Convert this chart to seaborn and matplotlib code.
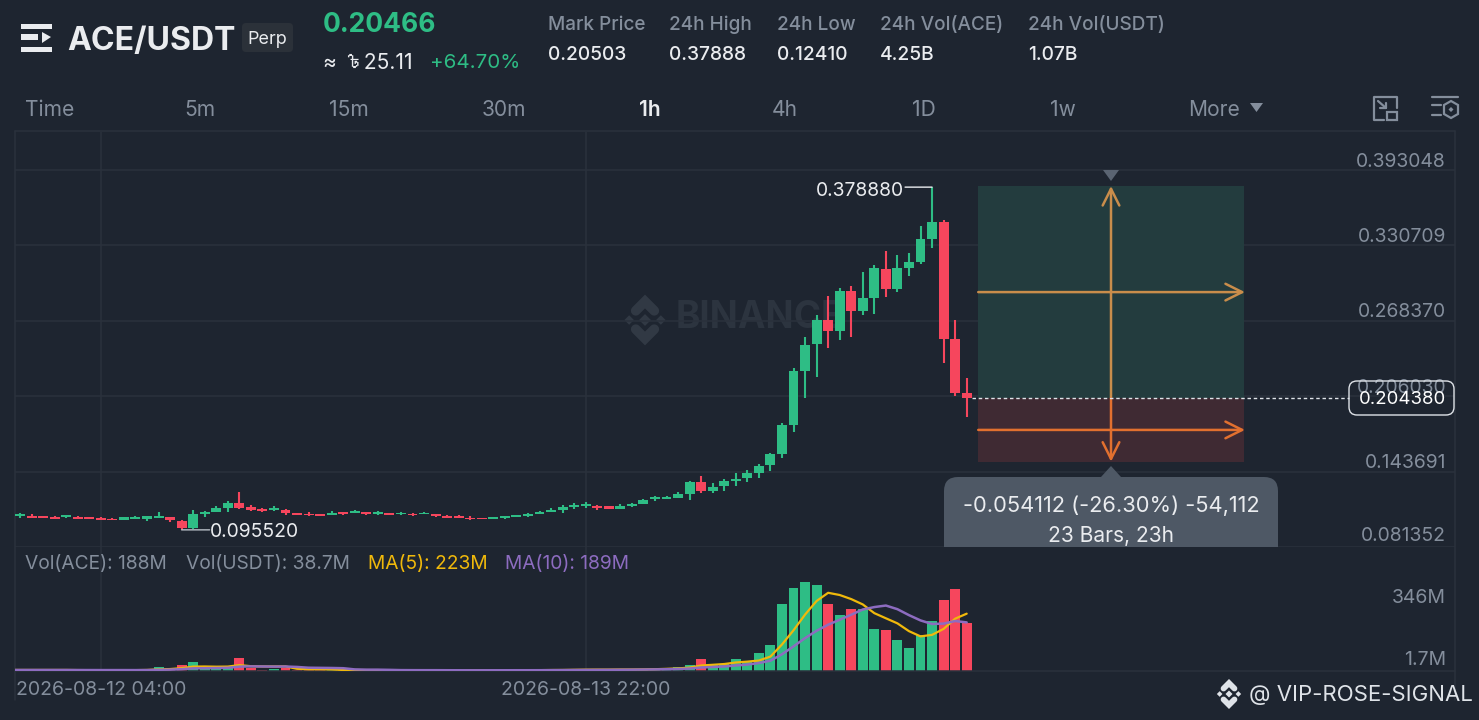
import numpy as np
import pandas as pd
import seaborn as sns
import matplotlib
matplotlib.use("Agg")
import matplotlib.pyplot as plt
from matplotlib import font_manager as fm
from matplotlib.ft2font import FT2Font
from matplotlib.patches import Rectangle, Polygon, FancyBboxPatch

BG = "#1e2530"; GRID = "#2a313c"; GREEN = "#2ebd85"; RED = "#f6465d"
MUTED = "#848e9c"; WHITE = "#eaecef"; YELLOW = "#f0b90b"; PURPLE = "#8d6cc0"

opens = [.10670,.10698,.10670,.10643,.10587,.10615,.10615,.10560,.10477,.10395,.10477,.10477,.10532,.10615,.10312,.09678,.10891,.11056,.11332,.11745,.11414,.11249,.11221,.11221,.10918,.10891,.10863,.10780,
 .11001,.10974,.11001,.10836,.10946,.10836,.10891,.10864,.10836,.10671,.10698,.10560,.10533,.10450,.10560,.10643,.10726,.10864,.11029,.11167,.11442,.11525,.11553,.11497,.11305,.11497,.11690,.12076,.12131,.12214,.12517,.13482,.12793,.13151,.13619,.13812,.14281,.14887,
 .15824,.18249,.22686,.24891,.26903,.25994,.29273,.27675,.28722,.31147,.29439,.31230,.31726,.33600,.35006,.25332,.20840]
closes = [.10836,.10560,.10532,.10477,.10753,.10450,.10477,.10395,.10339,.10587,.10643,.10670,.10698,.10339,.09678,.10863,.11028,.11332,.11773,.11387,.11221,.11084,.11387,.10946,.10808,.10753,.10725,.10973,
 .10836,.11140,.10836,.11001,.10808,.10974,.10753,.10974,.10698,.10533,.10560,.10423,.10423,.10588,.10698,.10753,.10864,.11029,.11167,.11442,.11608,.11663,.11387,.11305,.11497,.11663,.12049,.12242,.12269,.12490,.13482,.12793,.13123,.13564,.13785,.14281,.14860,.15824,
 .18249,.22686,.24864,.26903,.26021,.29273,.27675,.28694,.31175,.29466,.31230,.31726,.33600,.35006,.25360,.20895,.20438]
highs = [.10946,.10863,.10698,.10698,.10780,.10698,.10643,.10615,.10505,.10615,.10670,.10698,.11028,.10643,.10367,.11194,.11139,.11525,.11966,.12654,.11580,.11332,.11497,.11249,.10946,.11028,.10891,.11084,
 .11029,.11167,.11029,.11112,.10974,.11001,.10974,.11001,.10864,.10781,.10781,.10698,.10560,.10615,.10726,.10781,.10946,.11112,.11360,.11580,.11773,.11883,.11608,.11525,.11663,.11773,.12076,.12352,.12352,.12682,.13592,.13978,.13454,.13730,.14253,.14501,.14970,.15907,
 .18360,.22962,.25470,.27289,.28887,.29521,.29714,.30844,.31450,.32580,.32250,.32415,.34647,.37888,.35171,.26931,.22108]
lows = [.10560,.10560,.10505,.10450,.10560,.10450,.10450,.10367,.10339,.10339,.10450,.10312,.10505,.10229,.09552,.09650,.10643,.11001,.11001,.11304,.11139,.11028,.11111,.10808,.10808,.10725,.10725,.10753,
 .10808,.10946,.10808,.10808,.10808,.10808,.10698,.10836,.10643,.10505,.10533,.10395,.10423,.10423,.10478,.10615,.10643,.10836,.11001,.10974,.11305,.11360,.11222,.11249,.11277,.11470,.11663,.11966,.12076,.12186,.12049,.12627,.12627,.12793,.13151,.13482,.13868,.14446,
 .15490,.17643,.20482,.22218,.24616,.25249,.25525,.27344,.27427,.28832,.29218,.30541,.31506,.32884,.23375,.20619,.18855]
volumes = [5,4,4,3,4,3,3,3,3,4,4,6,14,10,22,34,8,10,12,51,13,3,9,13,
 5,4,3,5,3,4,3,3,2,3,3,3,3,3,2,3,3,3,4,3,3,4,5,5,6,6,5,5,7,6,8,9,12,15,
 23,48,23,27,45,40,69,100,263,322,346,334,260,220,242,242,164,160,121,90,140,194,276,320,188]
ma5 = [4,4,4,4,4,4,3.6,3.4,3.2,3.2,3.2,3.4,4,6.2,7.6,11.2,17.2,17.6,16.8,17.2,23,18.8,17.8,17.6,17.8,8.6,6.8,6.8,6,4,3.8,3.6,3.6,3,3,2.8,2.8,2.8,3,2.8,2.8,2.8,2.8,3,3.2,3.2,3.4,3.8,4,4.6,5.2,5.4,5.4,5.8,5.8,6.2,7,8.4,10,13.4,21.4,24.2,27.2,33.2,36.6,40.8,56.2,103.4,158.8,220,273,305,296.4,280.4,259.6,225.6,205.6,185.8,155.4,135,141,164.2,204,223.6]
ma10 = [4,4,4,4,4,4,3.8,3.7,3.6,3.6,3.6,3.5,3.7,4.7,5.4,7.2,10.3,10.8,11.5,12.4,17.1,18,17.7,17.2,17.5,15.8,12.8,12.3,11.8,10.9,6.2,5.2,5.2,4.5,3.5,3.3,3.2,3.2,3,2.9,2.8,2.8,2.9,2.9,3,3,3.1,3.3,3.5,3.9,4.2,4.4,4.6,4.9,5.2,5.7,6.2,6.9,7.9,9.6,13.8,15.6,17.8,21.6,25,31.1,40.2,65.3,96,128.3,156.9,180.6,199.9,219.6,239.8,249.3,255.3,241.1,217.9,197.3,183.3,184.9,194.9,189.5]
price_ticks = [0.393048,0.330709,0.268370,0.206030,0.143691,0.081352]
date_ticks = [7, 49]
date_labels = ["2026-08-12 04:00", "2026-08-13 22:00"]
stat_labels = ["Mark Price","24h High","24h Low","24h Vol(ACE)","24h Vol(USDT)"]
stat_values = ["0.20503","0.37888","0.12410","4.25B","1.07B"]
tabs = ["5m","15m","30m","1h","4h","1D","1w"]

sns.set_theme(style="dark")
plt.rcParams['font.family'] = ['Inter', 'DejaVu Sans']
plt.rcParams['axes.unicode_minus'] = False

# look for an installed family that carries the taka sign
taka_families = []
for f in fm.fontManager.ttflist:
    try:
        if FT2Font(f.fname).get_char_index(0x9F3) != 0 and f.name not in taka_families:
            taka_families.append(f.name)
    except Exception:
        pass

W, H = 1479, 720
fig = plt.figure(figsize=(W/100, H/100), dpi=100, facecolor=BG)

def rect(x0, y0, x1, y1):
    return [x0/W, 1-y1/H, (x1-x0)/W, (y1-y0)/H]

bg = fig.add_axes([0,0,1,1], zorder=0); bg.set_xlim(0,W); bg.set_ylim(H,0); bg.axis("off")
price = fig.add_axes(rect(15,132,1455,547), zorder=1, facecolor="none")
vol = fig.add_axes(rect(15,547,1455,671), zorder=1, facecolor="none")
ui = fig.add_axes([0,0,1,1], zorder=3, facecolor="none"); ui.set_xlim(0,W); ui.set_ylim(H,0); ui.axis("off")

def T(ax, x, y, s, px, color, ha="left", weight="normal", **kw):
    return ax.text(x, y, s, fontsize=px*0.72, color=color, ha=ha, va="center", fontweight=weight, **kw)

def diamond_logo(ax, cx, cy, r, color):
    s = r*0.27
    def d(x, y, q):
        ax.add_patch(Polygon([(x,y-q),(x+q,y),(x,y+q),(x-q,y)], closed=True, fc=color, ec="none"))
    d(cx, cy, s)
    d(cx-r*0.72, cy, s*0.8)
    d(cx+r*0.72, cy, s*0.8)
    for sy in (-1, 1):
        ax.plot([cx-r*0.42, cx, cx+r*0.42], [cy+sy*r*0.42, cy+sy*r*0.84, cy+sy*r*0.42], color=color, lw=r*0.32, solid_joinstyle="miter")

# watermark, beneath the candles
diamond_logo(bg, 645, 320, 22, "#313944")
T(bg, 676, 318, "BINANCE", 37, "#2c343f", weight="bold")

idx = np.arange(len(opens))
ma_x = np.arange(-1, len(opens))
XL = (-5/11.545, (1455-20)/11.545)
PY = 0.00082678
price.set_xlim(*XL); price.set_ylim(0.081352, 0.081352+415*PY)
vol.set_ylim(0, 124*3.9)

# grid
for t in price_ticks:
    price.axhline(t, color=GRID, lw=1.1, zorder=1)
for ax in (price, vol):
    for i in date_ticks:
        ax.axvline(i, color=GRID, lw=1.1, zorder=1)
    ax.grid(False)
    for s in ax.spines.values():
        s.set_visible(False)
price.set_xticks([]); price.set_yticks([])
for t, lab in zip(price_ticks, ["%.6f" % p for p in price_ticks]):
    off = 11 if t == price_ticks[-1] else 8.5
    price.annotate(lab, xy=(1, t), xycoords=("axes fraction","data"), xytext=(-9, off), textcoords="offset pixels",
                   ha="right", va="center", color=MUTED, fontsize=13.9, annotation_clip=False)

# candles
colors = [GREEN if c >= o else RED for o, c in zip(opens, closes)]
price.vlines(idx, lows, highs, colors=colors, lw=1.5, zorder=3)
bottoms = np.minimum(opens, closes); heights = np.abs(np.array(closes)-np.array(opens))
price.bar(idx, heights, bottom=bottoms, width=0.86, color=colors, linewidth=0, zorder=4)

# extremes
hi = int(np.argmax(highs)); lo = int(np.argmin(lows))
price.annotate("", xy=(hi, highs[hi]), xytext=(-27, 0), textcoords="offset pixels",
               arrowprops=dict(arrowstyle="-", color=WHITE, lw=1, shrinkA=0, shrinkB=0))
price.annotate("0.378880", xy=(hi, highs[hi]), xytext=(-28, -4), textcoords="offset pixels", color=WHITE, fontsize=13.9,
               ha="right", va="center")
price.annotate("", xy=(lo, lows[lo]), xytext=(28, 0), textcoords="offset pixels",
               arrowprops=dict(arrowstyle="-", color="#b7bdc6", lw=1, shrinkA=0, shrinkB=0))
price.annotate("0.095520", xy=(lo, lows[lo]), xytext=(28, -2), textcoords="offset pixels", color=WHITE, fontsize=13.9,
               ha="left", va="center")

# position tool
L, R = 83, 106; MID = 94.5; TOP = .3798; ENTRY = .2044; SL = .1519
price.add_patch(Rectangle((L, ENTRY), R-L, TOP-ENTRY, fc="#233c3e", ec="none", zorder=2))
price.add_patch(Rectangle((L, SL), R-L, ENTRY-SL, fc="#3f2a33", ec="none", zorder=2))
TAN = "#c98d4b"; ORG = "#e2702f"
def arr(a, b, c):
    price.annotate("", xy=a, xytext=b, arrowprops=dict(arrowstyle="->,head_length=1.0,head_width=0.5", color=c, lw=1.8, shrinkA=0, shrinkB=0), zorder=5)
arr((R+0.1, (TOP+ENTRY)/2), (L, (TOP+ENTRY)/2), TAN)
arr((R+0.1, (SL+ENTRY)/2), (L, (SL+ENTRY)/2), ORG)
arr((MID, TOP), (MID, ENTRY), TAN)
arr((MID, SL), (MID, ENTRY), ORG)
price.plot([82.5, 1349/11.545-20/11.545], [.20438]*2, color="#dfe3e8", lw=1, ls=(0,(2.5,2)), zorder=5)

# volume bars + MAs
frame = pd.DataFrame({"i": idx, "v": volumes, "d": ["up" if c == GREEN else "down" for c in colors]})
sns.barplot(data=frame, x="i", y="v", hue="d", palette={"up": GREEN, "down": RED}, native_scale=True,
            dodge=False, width=0.86, saturation=1, legend=False, linewidth=0, ax=vol, zorder=2)
sns.lineplot(x=ma_x, y=ma5, color=YELLOW, lw=1.6, ax=vol, zorder=4)
sns.lineplot(x=ma_x, y=ma10, color=PURPLE, lw=1.8, ax=vol, zorder=5)
vol.set_xlim(*XL); vol.set_ylim(0, 124*3.9)
vol.set_xlabel(""); vol.set_ylabel(""); vol.set_yticks([])
vol.set_xticks(date_ticks, date_labels, color=MUTED, fontsize=14)
vol.tick_params(axis="x", length=0, pad=7.5)
vol.spines["bottom"].set_visible(True); vol.spines["bottom"].set_color(GRID); vol.spines["bottom"].set_linewidth(1.1)
for val, off, lab in [(346, -16, "346M"), (1.7, 11, "1.7M")]:
    vol.annotate(lab, xy=(1, val), xycoords=("axes fraction","data"), xytext=(-9, off), textcoords="offset pixels",
                 ha="right", va="center", color=MUTED, fontsize=14, annotation_clip=False)

# frame lines
bg.plot([14.5,14.5],[131,700], color=GRID, lw=1.1)
bg.plot([1455,1455],[131,700], color=GRID, lw=1.1)
bg.plot([14.5,1455],[131,131], color=GRID, lw=1.1)

# volume legend
T(ui, 25, 564, "Vol(ACE): 188M", 19.2, MUTED)
T(ui, 186, 564, "Vol(USDT): 38.7M", 19.2, MUTED)
T(ui, 368, 564, "MA(5): 223M", 19.2, YELLOW)
T(ui, 505, 564, "MA(10): 189M", 19.2, PURPLE)

# tooltip and triangles
clip = Rectangle((0,132), W, 415, transform=ui.transData)
tip = FancyBboxPatch((952,485), 318, 90, boxstyle="round,pad=8,rounding_size=14", fc="#4e5865", ec="none")
ui.add_patch(tip); tip.set_clip_path(clip)
ui.add_patch(Polygon([(1101,477),(1111,466),(1121,477)], fc="#4e5865", ec="none"))
ui.add_patch(Polygon([(1103,170),(1119,170),(1111,181)], fc="#5a6472", ec="none"))
T(ui, 1111, 506, "-0.054112 (-26.30%) -54,112", 21.9, WHITE, ha="center")
T(ui, 1111, 536, "23 Bars, 23h", 21, WHITE, ha="center")

# last price label
ui.add_patch(FancyBboxPatch((1356,388), 91, 20, boxstyle="round,pad=7,rounding_size=8", fc="none", ec="#dfe3e8", lw=1))
T(ui, 1446, 400, "0.204380", 18.6, "#ffffff", ha="right")

# header
for y0, y1, x1 in ((23.5, 28.5, 52), (34, 40, 38), (47, 52, 52)):
    ui.add_patch(Rectangle((21, y0), x1-21, y1-y0, fc=WHITE, ec="none"))
ui.add_patch(Polygon([(42,32),(51,37),(42,43)], fc=WHITE, ec="none"))
T(ui, 67, 41, "ACE/USDT", 32, WHITE, weight="bold")
ui.add_patch(FancyBboxPatch((246,27), 43, 21, boxstyle="round,pad=4,rounding_size=4", fc="#2b3139", ec="none"))
T(ui, 267.5, 40, "Perp", 18, WHITE, ha="center")
T(ui, 323, 25.5, "0.20466", 26.5, GREEN, weight="bold")
if taka_families:
    ui.text(323, 63, "≈ ৳25.11", fontsize=21*0.72, color=WHITE, ha="left", va="center",
            family=["Inter", taka_families[0], "DejaVu Sans"])
else:
    T(ui, 323, 63, "≈", 21, WHITE)
    ui.plot([342,349,349], [53,53,69], color=WHITE, lw=1.6)
    ui.plot([339,353], [58,58], color=WHITE, lw=1.6)
    ui.plot([349,354,354,349], [62,62,69,69], color=WHITE, lw=1.6)
    T(ui, 356, 63, "25.11", 21, WHITE)
T(ui, 430, 63, "+64.70%", 20.5, GREEN)
for x, a, b in zip([548,669,777,880,1028], stat_labels, stat_values):
    T(ui, x, 25, a, 19, MUTED, weight="medium")
    T(ui, x, 55, b, 19.2, WHITE, weight="medium")

# interval tabs
T(ui, 25, 110, "Time", 21, MUTED)
for x, s in zip([200,349,504,650,785,924,1063], tabs):
    T(ui, x, 110, s, 21, WHITE if s == "1h" else MUTED, ha="center", weight="semibold" if s == "1h" else "normal")
T(ui, 1188, 110, "More", 21, MUTED)
ui.add_patch(Polygon([(1250,103),(1263,103),(1256.5,112)], fc=MUTED, ec="none"))

# toolbar icons
ic = dict(color=MUTED, lw=1.6, solid_capstyle="round")
ui.plot([1381,1374,1374,1384],[97,97,120,120], **ic)
ui.plot([1381,1397,1397],[97,97,108], **ic)
ui.add_patch(Rectangle((1387,112),10,8, fc="none", ec=MUTED, lw=1.6))
ui.plot([1378,1386],[101,108], **ic); ui.plot([1386,1386,1380],[103,108,108], **ic)
ui.plot([1432,1458],[97,97], **ic); ui.plot([1432,1441],[105,105], **ic); ui.plot([1432,1441],[115,115], **ic)
ui.add_patch(Polygon([(1451,101),(1458,105),(1458,114),(1451,118),(1444,114),(1444,105)], fc="none", ec=MUTED, lw=1.6))
ui.add_patch(Polygon([(1451,107),(1453.5,109.5),(1451,112),(1448.5,109.5)], fc=MUTED, ec="none"))

# bottom-right tag
diamond_logo(ui, 1229, 694, 13, "#dfe3e8")
T(ui, 1249, 695, "@ VIP-ROSE-SIGNAL", 22.2, "#dfe3e8")

fig.savefig("out.png", dpi=100, facecolor=BG)
